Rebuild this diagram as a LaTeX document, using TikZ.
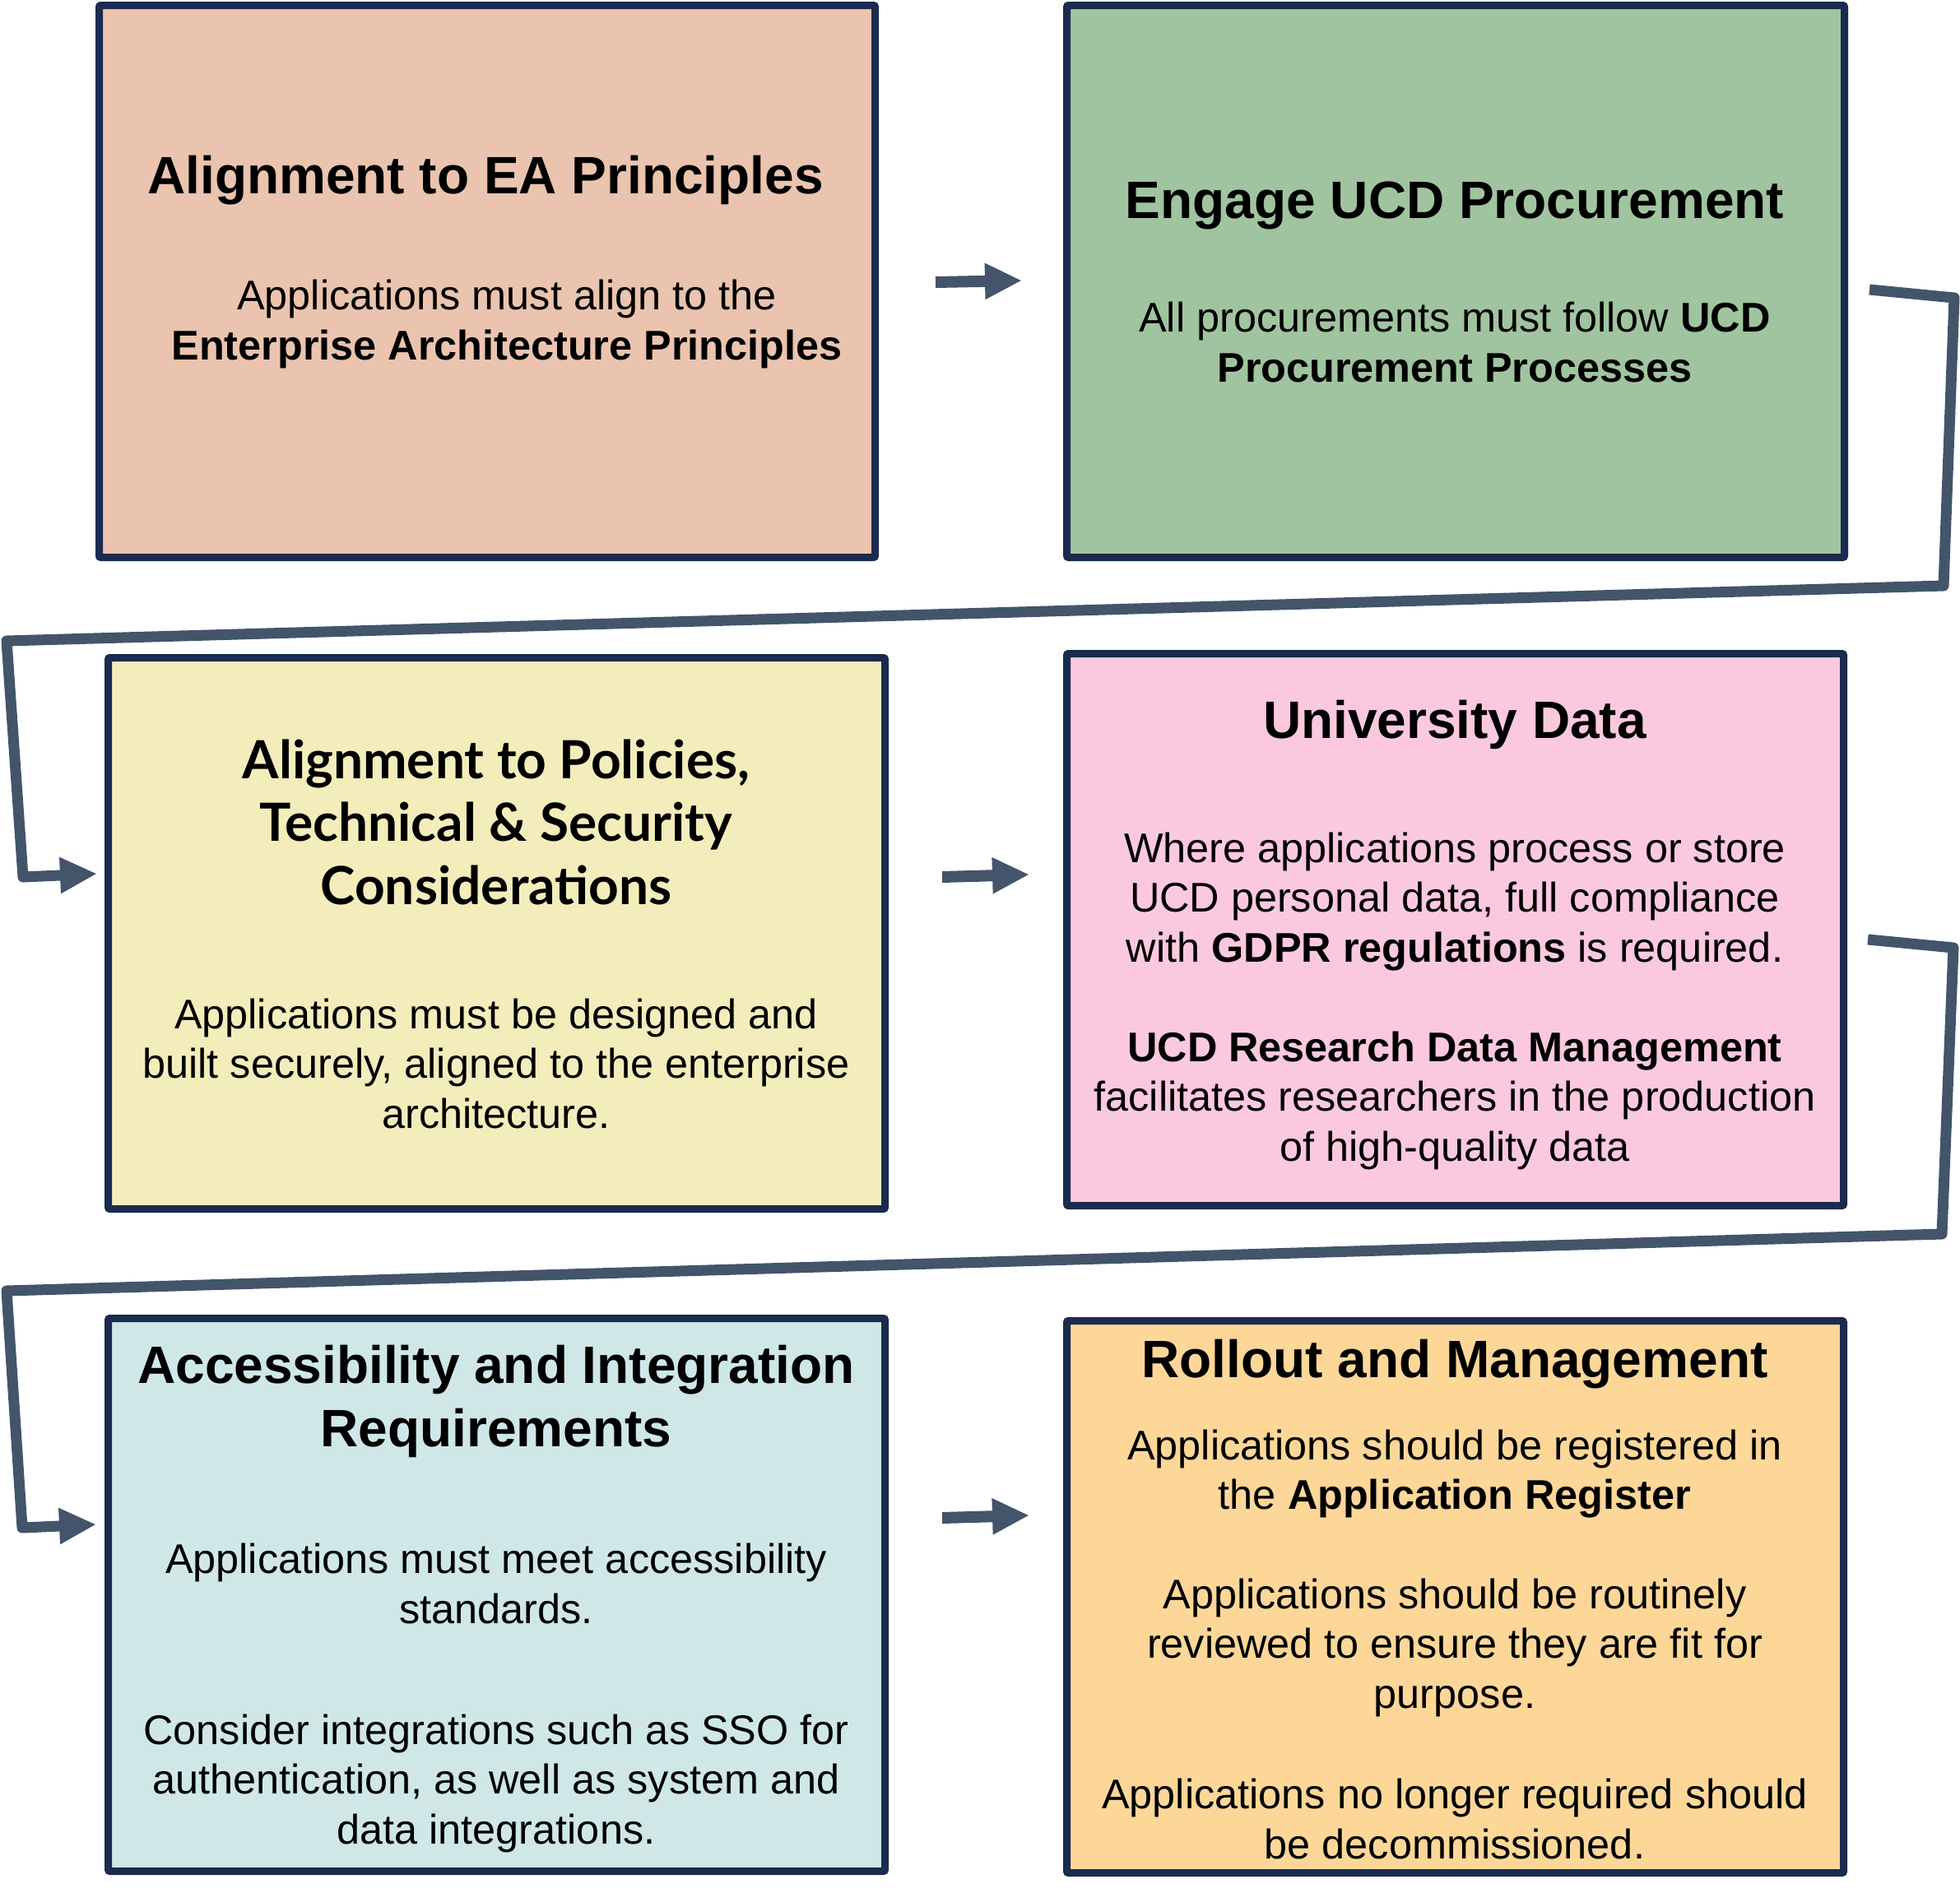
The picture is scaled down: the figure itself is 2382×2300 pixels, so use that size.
\documentclass[tikz,border=0pt]{standalone}
\usepackage{fontspec}
\setmainfont{Liberation Sans}
\newfontfamily\latofont{Lato}
\usetikzlibrary{arrows.meta}
\definecolor{cBorder}{HTML}{1A2B4F}
\definecolor{cConn}{HTML}{44546A}
\definecolor{cEA}{HTML}{EAC4AF}
\definecolor{cProc}{HTML}{A1C4A0}
\definecolor{cPol}{HTML}{F3EDBB}
\definecolor{cData}{HTML}{FBC9DE}
\definecolor{cAcc}{HTML}{CFE7E7}
\definecolor{cRoll}{HTML}{FCD798}
\begin{document}
\begin{tikzpicture}[x=1pt,y=-1pt,
  box/.style={draw=cBorder, line width=9pt, rounded corners=2pt, inner sep=0pt},
  conn/.style={draw=cConn, line width=13pt, line join=round},
  short/.style={draw=cConn, line width=14pt},
  tip/.style={-{Triangle[length=45pt,width=41pt]}},
  ttl/.style={font=\fontsize{64}{76.8}\selectfont\bfseries, align=center, anchor=base, inner sep=0pt},
  bdy/.style={font=\fontsize{50.4}{60.5}\selectfont, align=center, anchor=base, inner sep=0pt}]
\useasboundingbox (0,0) rectangle (2382,2300);
% boxes
\node[box, fill=cEA,   minimum width=943pt, minimum height=671pt] (b1) at (592,342) {};
\node[box, fill=cProc, minimum width=945pt, minimum height=671pt] (b2) at (1769,342) {};
\node[box, fill=cPol,  minimum width=944pt, minimum height=670pt] (b3) at (603.5,1134.5) {};
\node[box, fill=cData, minimum width=944pt, minimum height=671pt] (b4) at (1768.5,1130) {};
\node[box, fill=cAcc,  minimum width=944pt, minimum height=672pt] (b5) at (603.5,1938.5) {};
\node[box, fill=cRoll, minimum width=944pt, minimum height=671pt] (b6) at (1768.5,1941) {};
% texts (anchor = baseline of last line)
\node[ttl] (t1) at (590,235) {Alignment to EA Principles};
\node[bdy] (d1) at (616,437) {Applications must align to the\\\textbf{Enterprise Architecture Principles}};
\node[ttl] (t2) at (1768,265) {Engage UCD Procurement};
\node[bdy] (d2) at (1768,464) {All procurements must follow \textbf{UCD}\\\textbf{Procurement Processes}};
\node[ttl, font=\fontsize{64}{76.5}\selectfont\latofont\bfseries] (t3) at (603,1099) {Alignment to Policies,\\Technical \& Security\\Considerations};
\node[bdy] (d3) at (603,1371) {Applications must be designed and\\built securely, aligned to the enterprise\\architecture.};
\node[ttl] (t4) at (1768,897) {University Data};
\node[bdy] (d4) at (1768,1411) {Where applications process or store\\UCD personal data, full compliance\\with \textbf{GDPR regulations} is required.\\[60.5pt]\textbf{UCD Research Data Management}\\facilitates researchers in the production\\of high-quality data};
\node[ttl] (t5) at (603,1758) {Accessibility and Integration\\Requirements};
\node[bdy] (d5a) at (603,1973) {Applications must meet accessibility\\standards.};
\node[bdy] (d5b) at (603,2241) {Consider integrations such as SSO for\\authentication, as well as system and\\data integrations.};
\node[ttl] (t6) at (1768,1674) {Rollout and Management};
\node[bdy] (d6) at (1768,2259) {Applications should be registered in\\the \textbf{Application Register}\\[60pt]Applications should be routinely\\reviewed to ensure they are fit for\\purpose.\\[62pt]Applications no longer required should\\be decommissioned.};
% connector coordinates
\coordinate (a1s) at (1137,343);
\coordinate (a1e) at (1242,341);
\coordinate (a2s) at (1145,1066);
\coordinate (a2e) at (1251,1063);
\coordinate (a3s) at (1145,1845);
\coordinate (a3e) at (1251,1842);
\coordinate (c1a) at (2272,352);
\coordinate (c1b) at (2375,362);
\coordinate (c1c) at (2362,712);
\coordinate (c1d) at (8,779);
\coordinate (c1e) at (28,1066);
\coordinate (c1f) at (118,1062);
\coordinate (c2a) at (2270,1142);
\coordinate (c2b) at (2374,1152);
\coordinate (c2c) at (2360,1500);
\coordinate (c2d) at (8,1569);
\coordinate (c2e) at (27,1857);
\coordinate (c2f) at (117,1853);
% connectors
\draw[short, tip, fill=cConn] (a1s) -- (a1e);
\draw[short, tip, fill=cConn] (a2s) -- (a2e);
\draw[short, tip, fill=cConn] (a3s) -- (a3e);
\draw[conn, tip] (c1a) -- (c1b) -- (c1c) -- (c1d) -- (c1e) -- (c1f);
\draw[conn, tip] (c2a) -- (c2b) -- (c2c) -- (c2d) -- (c2e) -- (c2f);
\end{tikzpicture}
\end{document}
